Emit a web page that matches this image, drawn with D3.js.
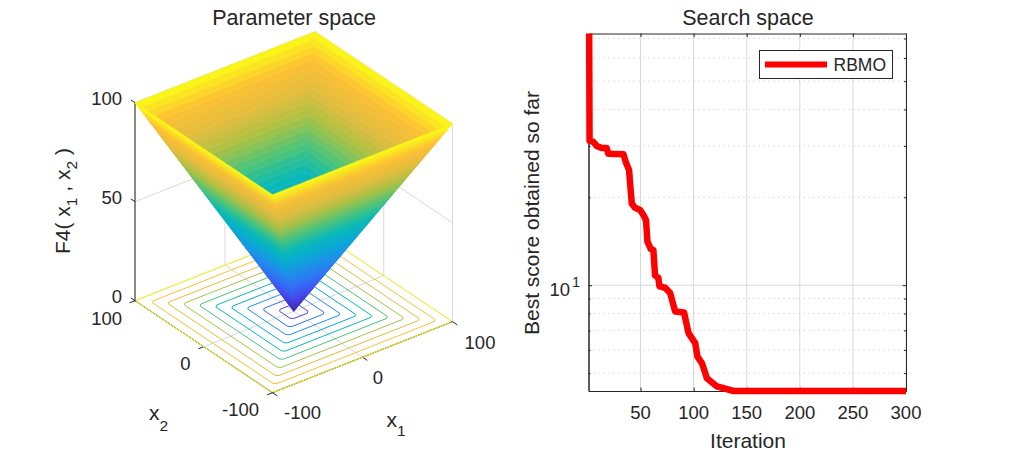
<!DOCTYPE html>
<html>
<head>
<meta charset="utf-8">
<script src="https://cdn.jsdelivr.net/npm/d3@7"></script>
<style>
  body { margin: 0; background: #fff; }
  svg { display: block; }
  text { font-family: "Liberation Sans", Arial, sans-serif; fill: #262626; }
</style>
</head>
<body>
<div id="chart-area"></div>
<script>
// Left panel values
const surfaceLevels = [0, 2.5, 5, 7.5, 10, 12.5, 15, 17.5, 20, 22.5, 25, 27.5, 30, 32.5, 35, 37.5, 40,
  42.5, 45, 47.5, 50, 52.5, 55, 57.5, 60, 62.5, 65, 67.5, 70, 72.5, 75, 77.5, 80, 82.5, 85, 87.5, 90,
  92.5, 95, 97.5, 100];
const contourLevels = [10, 20, 30, 40, 50, 60, 70, 80, 90, 100];
const floorTicks = [-100, 0, 100];
const zTicks = [0, 50, 100];
const parulaStops = ["#3e26a8", "#4548ee", "#3470f5", "#1e90ea", "#0aaad4", "#0abab5", "#4cc47a",
  "#a8c245", "#e4bc3e", "#fdc034", "#f9fb15"];

// Right panel values
const iterations = [1, 2, 5.5, 8.7, 13.4, 18.1, 19.7, 33.9, 36.4, 39.2, 40.2, 41.8, 44.9, 49.6, 52.7,
  55.2, 56.5, 59.7, 62.1, 63.7, 66.8, 67.8, 73.2, 77.9, 82.6, 91, 95.2, 101.5, 103.6, 107.8, 112.5,
  122, 137.6, 300];
const bestScores = [300, 31.2, 31, 30, 29.5, 29.5, 28.2, 28.1, 26.2, 24.8, 22.3, 19, 18.4, 18.1, 17.4,
  16.7, 14.1, 13.3, 13.2, 10.8, 10.6, 9.9, 9.8, 9.4, 8.13, 8.06, 6.85, 6.33, 5.69, 5.41, 4.8,
  4.5, 4.34, 4.34];
const iterTicks = [50, 100, 150, 200, 250, 300];
const minorY = [5, 6, 7, 8, 9, 20, 30, 40, 50, 60, 70];
const majorY = [10];

let svg = d3.select("#chart-area").append("svg")
  .attr("width", 1031)
  .attr("height", 453);

const ink = "#262626";
const gridColor = "#d9d9d9";

function addText(x, y, str, size, anchor){
  return svg.append("text")
    .attr("x", x)
    .attr("y", y)
    .attr("font-size", size)
    .attr("text-anchor", anchor || "middle")
    .text(str);
}

// ---- Parameter space ----
const x1X = d3.scaleLinear().domain([-100, 100]).range([0, 180]);
const x1Y = d3.scaleLinear().domain([-100, 100]).range([0, -71]);
const x2X = d3.scaleLinear().domain([-100, 100]).range([0, -137.5]);
const x2Y = d3.scaleLinear().domain([-100, 100]).range([0, -92]);
const zY = d3.scaleLinear().domain([0, 100]).range([0, -198]);
const colorScale = d3.scaleLinear()
  .domain(parulaStops.map((c, i) => i * 10))
  .range(parulaStops);

function project(x1, x2, z){
  return [272.5 + x1X(x1) + x2X(x2), 392.7 + x1Y(x1) + x2Y(x2) + zY(z)];
}

let left = svg.append("g");
let line3d = d3.line();

function seg(a, b, color, w){
  left.append("path")
    .attr("d", line3d([project(a[0], a[1], a[2]), project(b[0], b[1], b[2])]))
    .attr("fill", "none")
    .attr("stroke", color)
    .attr("stroke-width", w || 1);
}

// back walls and floor grid
zTicks.forEach(function(z){
  seg([-100, 100, z], [100, 100, z], gridColor);
  seg([100, 100, z], [100, -100, z], gridColor);
});
floorTicks.forEach(function(t){
  seg([t, -100, 0], [t, 100, 0], gridColor);
  seg([-100, t, 0], [100, t, 0], gridColor);
  seg([t, 100, 0], [t, 100, 100], gridColor);
  seg([100, t, 0], [100, t, 100], gridColor);
});

// axes
seg([-100, 100, 0], [-100, 100, 100], ink);
seg([-100, -100, 0], [100, -100, 0], ink);
seg([-100, -100, 0], [-100, 100, 0], ink);
zTicks.forEach(function(z){ seg([-100, 100, z], [-100, 106, z], ink); });
floorTicks.forEach(function(t){
  seg([t, -100, 0], [t, -107, 0], ink);
  seg([-100, t, 0], [-106, t, 0], ink);
});

// contours on the floor
contourLevels.forEach(function(l){
  let c = 2.5;
  let pts = [[-l + c, -l], [l - c, -l], [l, -l + c], [l, l - c], [l - c, l], [-l + c, l], [-l, l - c], [-l, -l + c]];
  left.append("path")
    .attr("d", d3.line()(pts.map((p) => project(p[0], p[1], 0))) + "Z")
    .attr("fill", "none")
    .attr("stroke", colorScale(l))
    .attr("stroke-width", 1)
    .attr("stroke-linejoin", "round");
});

// surface, far walls first so the near walls cover them
const faces = [
  (l, s) => [s * l, l],
  (l, s) => [l, s * l],
  (l, s) => [-l, s * l],
  (l, s) => [s * l, -l]
];
faces.forEach(function(face){
  d3.pairs(surfaceLevels).forEach(function(pair){
    let lo = pair[0], hi = pair[1];
    let pts = [face(lo, -1).concat(lo), face(lo, 1).concat(lo), face(hi, 1).concat(hi), face(hi, -1).concat(hi)];
    let col = colorScale((lo + hi) / 2);
    left.append("path")
      .attr("d", d3.line()(pts.map((p) => project(p[0], p[1], p[2]))) + "Z")
      .attr("fill", col)
      .attr("stroke", col)
      .attr("stroke-width", 0.6)
      .attr("stroke-linejoin", "round");
  });
});

// left panel text
addText(294, 25, "Parameter space", 21.5);
addText(122, 105, "100", 18.5, "end");
addText(122, 204, "50", 18.5, "end");
addText(122, 302.5, "0", 18.5, "end");
addText(302.5, 418.5, "-100", 18.5);
addText(378, 383.5, "0", 18.5);
addText(480, 349, "100", 18.5);
addText(240.5, 415.5, "-100", 18.5);
addText(185.5, 370, "0", 18.5);
addText(122, 325, "100", 18.5, "end");

let x1Label = addText(386.5, 426.5, "x", 21, "start");
x1Label.append("tspan").attr("dy", 9.5).attr("font-size", 15.5).text("1");
let x2Label = addText(149, 420, "x", 21, "start");
x2Label.append("tspan").attr("dy", 10.5).attr("font-size", 15.5).text("2");

let zLabel = svg.append("text")
  .attr("transform", "translate(69.5,201) rotate(-90)")
  .attr("text-anchor", "middle")
  .attr("font-size", 21)
  .text("F4( x");
zLabel.append("tspan").attr("dy", 7).attr("font-size", 15.5).text("1");
zLabel.append("tspan").attr("dy", -7).text(" , x");
zLabel.append("tspan").attr("dy", 7).attr("font-size", 15.5).text("2");
zLabel.append("tspan").attr("dy", -7).text(" )");

// ---- Search space ----
const xPlot = d3.scaleLinear().domain([1, 300]).range([588.5, 906]);
const yPlot = d3.scaleLog().domain([4.34, 72.8]).range([391, 33.5]);

let right = svg.append("g");

svg.append("clipPath").attr("id", "plot-clip")
  .append("rect")
  .attr("x", 560).attr("y", 33.5)
  .attr("width", 370).attr("height", 400);

// Grid
right.selectAll(".xgrid").data(iterTicks).enter().append("line")
  .attr("x1", (d) => xPlot(d)).attr("x2", (d) => xPlot(d))
  .attr("y1", 33.5).attr("y2", 391)
  .attr("stroke", gridColor).attr("stroke-width", 1);
right.selectAll(".ymajor").data(majorY).enter().append("line")
  .attr("x1", 588.5).attr("x2", 906)
  .attr("y1", (d) => yPlot(d)).attr("y2", (d) => yPlot(d))
  .attr("stroke", gridColor).attr("stroke-width", 1);
right.selectAll(".yminor").data(minorY).enter().append("line")
  .attr("x1", 588.5).attr("x2", 906)
  .attr("y1", (d) => yPlot(d)).attr("y2", (d) => yPlot(d))
  .attr("stroke", "#c4c4c4").attr("stroke-width", 1)
  .attr("stroke-dasharray", "1 4");

// X Axis Call
function styleAxis(g){
  g.selectAll("path").attr("stroke", ink).attr("stroke-width", 1);
  g.selectAll("line").attr("stroke", ink).attr("stroke-width", 1);
  g.selectAll("text").remove();
}
right.append("g").attr("transform", "translate(0,391)")
  .call(d3.axisBottom(xPlot).tickValues(iterTicks).tickSize(-3.5).tickSizeOuter(0)).call(styleAxis);
right.append("g").attr("transform", "translate(0,33.5)")
  .call(d3.axisTop(xPlot).tickValues(iterTicks).tickSize(-3.5).tickSizeOuter(0)).call(styleAxis);

// Y Axis Call
right.append("g").attr("transform", "translate(588.5,0)")
  .call(d3.axisLeft(yPlot).tickValues(majorY).tickSize(-3.5).tickSizeOuter(0)).call(styleAxis);
right.append("g").attr("transform", "translate(906,0)")
  .call(d3.axisRight(yPlot).tickValues(majorY).tickSize(-3.5).tickSizeOuter(0)).call(styleAxis);
right.append("g").attr("transform", "translate(588.5,0)")
  .call(d3.axisLeft(yPlot).tickValues(minorY).tickSize(-2).tickSizeOuter(0)).call(styleAxis);
right.append("g").attr("transform", "translate(906,0)")
  .call(d3.axisRight(yPlot).tickValues(minorY).tickSize(-2).tickSizeOuter(0)).call(styleAxis);

// Best score line
right.append("path")
  .attr("d", d3.line()
    .x((d) => xPlot(d))
    .y((d, i) => yPlot(bestScores[i]))(iterations))
  .attr("clip-path", "url(#plot-clip)")
  .attr("fill", "none")
  .attr("stroke", "#ff0000")
  .attr("stroke-width", 6.5)
  .attr("stroke-linejoin", "round");

// Legend
right.append("rect")
  .attr("x", 759.5).attr("y", 50.5)
  .attr("width", 133).attr("height", 28)
  .attr("fill", "#fff").attr("stroke", ink);
right.append("line")
  .attr("x1", 765).attr("x2", 827)
  .attr("y1", 64.5).attr("y2", 64.5)
  .attr("stroke", "#ff0000").attr("stroke-width", 6);
addText(833.5, 70.5, "RBMO", 17.5, "start");

// right panel text
addText(748, 25, "Search space", 21.5);
iterTicks.forEach(function(d){
  addText(xPlot(d), 418.5, String(d), 18.5);
});
addText(570, 295.7, "10", 18.5, "end");
addText(572, 287, "1", 14.5, "start");
addText(748, 447.5, "Iteration", 21);
svg.append("text")
  .attr("transform", "translate(538.7,213) rotate(-90)")
  .attr("text-anchor", "middle")
  .attr("font-size", 21)
  .text("Best score obtained so far");
</script>
</body>
</html>
